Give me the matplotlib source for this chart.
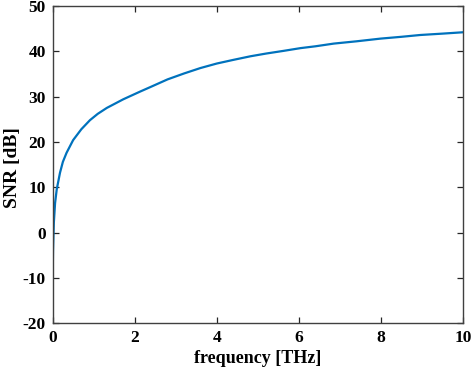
import matplotlib
matplotlib.use('Agg')
import matplotlib.pyplot as plt

# values
freq = [0.0, 0.01, 0.03, 0.06, 0.1, 0.18, 0.25, 0.34, 0.5, 0.7, 0.91, 1.1, 1.32,
        1.72, 2.13, 2.38, 2.8, 3.2, 3.6, 4.0, 4.4, 4.82, 5.2, 5.63, 6.04, 6.4,
        6.85, 7.4, 7.99, 8.5, 8.96, 9.5, 10.0]
snr = [-11.0, -4.0, 2.2, 6.5, 9.5, 13.2, 15.6, 17.6, 20.4, 22.8, 24.8, 26.2, 27.5,
       29.4, 31.1, 32.1, 33.8, 35.1, 36.3, 37.3, 38.1, 38.9, 39.5, 40.1, 40.7, 41.1,
       41.7, 42.2, 42.8, 43.2, 43.6, 43.9, 44.2]

xticks = [0, 2, 4, 6, 8, 10]
yticks = [-20, -10, 0, 10, 20, 30, 40, 50]

plt.rcParams['font.family'] = ['Liberation Serif', 'DejaVu Serif']
plt.rcParams['font.weight'] = 'bold'
plt.rcParams['axes.unicode_minus'] = False

fig = plt.figure(figsize=(4.74, 3.74), dpi=100)
ax = fig.add_axes([0.111, 0.136, 0.866, 0.848])
ax.plot(freq, snr, color='#0072BD', lw=1.6)

ax.set_xlim(0, 10)
ax.set_ylim(-20, 50)
ax.set_xticks(xticks)
ax.set_yticks(yticks)
ax.tick_params(direction='in', length=4, width=0.9, top=True, right=True,
               labelsize=12.5, colors='#262626', labelcolor='black', pad=5)
for lab in ax.get_xticklabels() + ax.get_yticklabels():
    lab.set_fontweight('bold')
for s in ax.spines.values():
    s.set_color('#404040')
    s.set_linewidth(1.0)

ax.set_xlabel('frequency [THz]', fontsize=13, fontweight='bold', labelpad=3)
ax.set_ylabel('SNR [dB]', fontsize=14, fontweight='bold')
ax.yaxis.set_label_coords(-0.078, 0.49)

fig.savefig('out.png', dpi=100)
